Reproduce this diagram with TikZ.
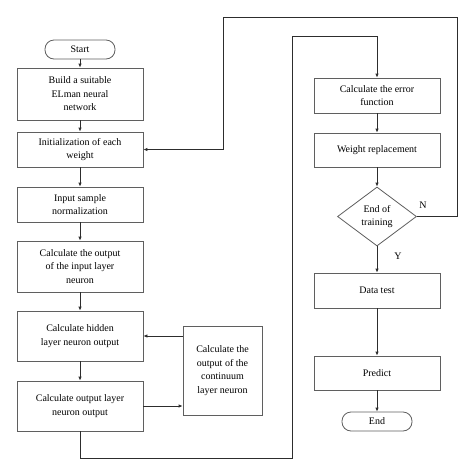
\documentclass[tikz,border=0pt]{standalone}
\usepackage{fontspec}
\setmainfont{Liberation Serif}
\usetikzlibrary{arrows.meta,shapes.geometric}
\definecolor{boxline}{RGB}{95,95,95}
\definecolor{flowline}{RGB}{45,45,45}

\tikzset{
    stepbox/.style={draw=boxline, thick, fill=white, align=center, inner sep=0pt, font=\fontsize{10}{13.5}\selectfont},
    termbox/.style={stepbox, rounded corners=9pt, minimum width=70pt, minimum height=19pt},
    decbox/.style={stepbox, diamond, aspect=1.34, minimum width=79pt, minimum height=59pt},
    flow/.style={flowline, thick, ->},
}

\begin{document}
\begin{tikzpicture}[x=1pt, y=-1pt, >={Latex[length=4pt,width=3.5pt]}]

    \useasboundingbox (0,0) rectangle (474,475);

    % Left column
    \node[termbox] (start) at (80,49.5) {Start};
    \node[stepbox, minimum width=126pt, minimum height=52pt] (build) at (80,94) {Build a suitable\\ELman neural\\network};
    \node[stepbox, minimum width=126pt, minimum height=35pt] (init) at (80,149.5) {Initialization of each\\weight};
    \node[stepbox, minimum width=126pt, minimum height=35pt] (norm) at (80,204.5) {Input sample\\normalization};
    \node[stepbox, minimum width=126pt, minimum height=51pt] (inout) at (80,266.5) {Calculate the output\\of the input layer\\neuron};
    \node[stepbox, minimum width=126pt, minimum height=50pt] (hidden) at (80,336) {Calculate hidden\\layer neuron output};
    \node[stepbox, minimum width=126pt, minimum height=50pt] (outl) at (80,406) {Calculate output layer\\neuron output};
    \node[stepbox, minimum width=79pt, minimum height=89pt] (cont) at (222.5,370.5) {Calculate the\\output of the\\continuum\\layer neuron};

    % Right column
    \node[stepbox, minimum width=126pt, minimum height=35pt] (err) at (377,95.5) {Calculate the error\\function};
    \node[stepbox, minimum width=126pt, minimum height=34pt] (repl) at (377,150) {Weight replacement};
    \node[decbox] (dec) at (377,216.5) {End of\\training};
    \node[stepbox, minimum width=126pt, minimum height=35pt] (test) at (377,290.5) {Data test};
    \node[stepbox, minimum width=126pt, minimum height=34pt] (pred) at (377,373) {Predict};
    \node[termbox] (end) at (377,421.5) {End};

    % Straight arrows
    \foreach \a/\b in {start/build, build/init, init/norm, norm/inout, inout/hidden, hidden/outl,
                       err/repl, repl/dec, dec/test, test/pred, pred/end}
        \draw[flow] (\a) -- (\b);

    % Continuum layer
    \draw[flow] (cont.west |- hidden.east) -- (hidden.east);
    \draw[flow] (outl.east) -- (cont.west |- outl.east);

    % Loop to error function
    \coordinate (c1) at (292,458);
    \coordinate (c2) at (292,36);
    \draw[flow] (outl.south) |- (c1) -- (c2) -| (err.north);

    % Back to weights
    \coordinate (n1) at (457,17);
    \coordinate (n2) at (223,149.5);
    \draw[flow] (dec.east) -| (n1) -| (n2) -- (init.east);

    % Branch labels
    \node[font=\fontsize{10}{12}\selectfont] (nlab) at (423,205) {N};
    \node[font=\fontsize{10}{12}\selectfont] (ylab) at (398,256) {Y};

\end{tikzpicture}
\end{document}
